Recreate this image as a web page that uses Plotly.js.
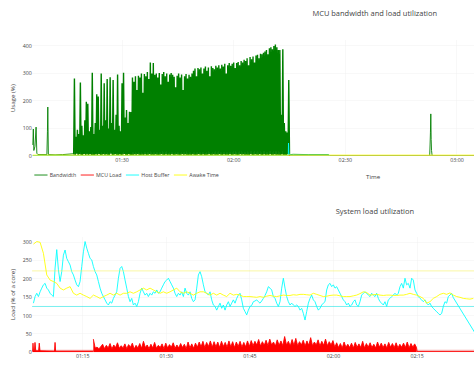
<!DOCTYPE html>
<html><head><meta charset="utf-8">
<script src="https://cdn.plot.ly/plotly-3.0.1.min.js"></script>
<style>
html,body{margin:0;padding:0;overflow:hidden;background:#fff;width:474px;height:370px}
#wrap{transform:scale(0.44);transform-origin:0 0;width:1700px;height:841px}
</style>
</head><body><div id="wrap"><div id="chart"></div></div>
<script>
const DAY = '2020-01-01 ';

// ---------- Top chart: MCU bandwidth and load utilization ----------
const bwEarlyTimes = ['01:06:00','01:06:09','01:06:18','01:06:36','01:06:54','01:07:06','01:07:24','01:09:48','01:09:57','01:10:03','01:10:12','01:12:00','01:14:00','01:16:00','01:16:54'];
const bwEarly = [40,98,20,35,105,10,5,5,90,178,5,4,5,7,8];
const bwDenseStart = '01:17:00';
const bwDenseStepMs = 12000;
const bwPeaks = [282,70,95,80,267,110,75,130,197,190,90,105,303,80,120,224,216,95,300,110,264,130,280,100,286,120,276,95,150,296,110,90,264,303,140,167,120,161,
 160,285,270,290,240,292,285,300,230,298,290,305,280,
 340,300,338,295,
 300,285,302,260,298,305,290,300,270,296,302,
 295,288,250,292,300,285,296,240,290,298,282,295,288,
 300,310,318,290,320,315,322,300,318,325,310,322,290,326,320,315,328,322,
 330,318,332,325,335,300,330,338,328,335,340,320,338,342,330,345,340,
 350,345,355,330,360,352,362,340,365,368,355,372,370,375,
 380,385,370,392,395,388,400,405,395,385,
 385,150,388,120,90,85,276];
const bwTroughs = [5,3,8,2,6,4,1,7,3,5, 2,6,4,3,1,5,2,7,3,4, 6,2,5,1,3,8,2,4,6,3, 1,5,2,4,7,3,2,6,1,4,
 3,5,2,6,1,3,4,2,5,1, 3,6,2,4,1,5,3,2,4,6, 1,3,5,2,4,1,6,3,2,5, 4,1,3,6,2,5,3,1,4,2,
 5,3,1,4,6,2,3,5,1,2, 4,6,3,1,5,2,4,3,6,1, 2,5,3,4,1,6,2,3,5,4, 1,3,6,2,5,1,4,3,2,6,
 3,1,5,4,2,6,1,3,5,2, 4,2,6,3,1,5,2,4,3,1, 5,3,2,4,6,1];
const bwLateTimes = ['02:15:10','02:16:00','02:20:00','02:25:30','02:25:40','02:52:40','02:52:46','02:52:52','02:52:58','02:53:04','02:53:10','02:53:20','03:06:00'];
const bwLate = [5,6,5,5,0,0,40,84,153,60,20,0,0];

const mcuTopTimes = ['01:06:00','03:06:00'];
const mcuTop = [1,1];
const hostTopTimes = ['01:06:00','02:14:40','02:14:44','02:14:50','02:15:10','02:25:40','02:25:50','03:06:00'];
const hostTop = [1,1,47,10,3,3,0,0];
const awakeTopTimes = ['01:06:00','03:06:00'];
const awakeTop = [3,3];

// ---------- Bottom chart: System load utilization ----------
const hostStart = '01:06:09';
const hostStepMs = 17940;
const hostLoad = [134,152,161,152,165,175,184,188,175,170,161,156,152,230,280,225,193,220,265,279,
 256,247,238,220,211,197,184,179,193,234,274,302,284,270,256,252,234,220,211,193,
 175,161,152,143,134,129,138,134,147,156,165,202,229,234,220,197,175,152,138,147,
 129,134,125,138,161,175,165,156,161,152,161,156,165,161,170,161,165,175,184,193,
 197,202,193,184,175,161,152,161,156,165,152,175,161,156,165,147,138,143,175,211,
 220,206,184,165,161,156,165,143,129,125,115,125,134,120,129,115,129,138,125,134,
 143,134,147,156,161,143,120,111,102,115,125,
 128,138,140,143,138,134,140,147,155,165,179,175,170,152,147,134,125,138,175,202,
 175,152,138,129,134,129,125,129,125,115,120,106,88,111,134,147,156,143,138,125,
 115,120,129,134,138,170,184,188,179,184,175,179,170,161,152,143,138,129,134,125,
 129,138,143,129,125,138,156,161,165,161,156,152,161,156,152,161,147,138,134,129,
 138,125,143,147,152,156,161,156,161,179,188,175,202,184,188,175,202,197,170,161,
 152,147,143,138,143,134,129,134,125,120,115,111,106,102,106,125,138,134,152,156,
 161,149];
const hostGapTimes = ['02:21:30','02:25:30'];
const hostGap = [149,50];

const awakeStart = '01:06:09';
const awakeStepMs = 35880;
const awakeLoad = [295,302,300,270,211,197,193,188,175,170,175,179,161,156,161,156,152,147,156,152,
 147,152,156,161,156,161,156,161,161,165,161,165,170,175,170,175,170,165,161,165,
 161,165,170,175,165,161,165,161,156,161,165,165,161,156,161,156,161,156,152,161,
 156,158,156,152,152,152,
 151,150,152,150,153,155,153,152,154,156,155,155,157,156,158,158,157,156,161,158,
 155,152,153,155,156,156,154,152,152,152,154,156,160,165,163,156,157,158,156,155,
 156,156,155,155,156,156,158,161,158,156,152,147,134,138,147,152,158,161,158,162,
 156,152,150,147,146,145,147];

const mcuEarlyTimes = ['01:06:00','01:06:04','01:06:10','01:06:20','01:06:26','01:06:34','01:07:05','01:07:12','01:07:20','01:09:56','01:10:02','01:10:08','01:16:50'];
const mcuEarly = [3,25,5,4,27,4,4,25,4,3,27,3,3];
const mcuStart = '01:16:54';
const mcuStepMs = 20000;
const mcuLoad = [36,12,14,10,15,
 22,10,19,12,24,9,20,13,26,11, 18,12,23,10,21,14,25,9,19,12, 24,11,30,13,20,10,22,12,27,11,
 19,13,23,10,25,12,21,14,26,11, 20,12,24,13,22,10,28,12,23,11, 25,
 14,28,15,30,13,27,16,31,14,29, 15,28,13,30,16,27,14,31,15,29, 13,28,16,30,14,27,15,31,16,
 32,18,30,20,35,17,29,19,33,18, 36,20,28,17,34,19,31,18,43,20, 30,17,35,19,38,18,29,20,33,17,
 31,19,40,18,28,20,34,17,30,19, 36,18,29,20,32,
 14,26,13,24,12,28,14,22,13,25, 12,27,14,23,13,30,12,24,14,26, 13,22,12,28,14,25,13,23,12,27,
 14,24,13,26,12,22,14,25,13,28, 12,24,14,23,13];
const mcuLateTimes = ['02:14:54','02:15:00','03:10:00'];
const mcuLate = [13,2,2];

// reference levels drawn across the whole lower chart
const refTimes = ['01:05:00','03:10:00'];
const awakeRef = [222,222];
const hostRef = [125,125];
const mcuRef = [4,4];

// axis ranges and tick labels
const topRange = ['01:05:50','04:09:06'];
const bottomRange = ['01:05:55','03:08:18'];
const topTicks = ['01:30','02:00','02:30','03:00'];
const bottomTicks = ['01:15','01:30','01:45','02:00','02:15'];
const topYTicks = [0,100,200,300,400];
const bottomYTicks = [0,50,100,150,200,250,300];

// ---------------------------------------------------------
const T = s => DAY + s;
const Ts = a => a.map(T);
function interleave(tr, pk){
  const out = [];
  for (let i = 0; i < pk.length; i++){ out.push(tr[i]); out.push(pk[i]); }
  out.push(tr[tr.length-1]);
  return out;
}
const GREEN = 'green', RED = 'red', CYAN = 'cyan', YEL = 'yellow';
const LW = 2;
const ln = (c, w) => ({color:c, width:w === undefined ? LW : w, simplify:false});

const traces = [
  {type:'scatter', mode:'lines', name:'Bandwidth', legendgroup:'bw', x:Ts(bwEarlyTimes), y:bwEarly, line:ln(GREEN), xaxis:'x', yaxis:'y'},
  {type:'scatter', mode:'lines', name:'Bandwidth', legendgroup:'bw', showlegend:false, x0:T(bwDenseStart), dx:bwDenseStepMs, y:interleave(bwTroughs,bwPeaks), line:ln(GREEN,3.2), xaxis:'x', yaxis:'y'},
  {type:'scatter', mode:'lines', name:'Bandwidth', legendgroup:'bw', showlegend:false, x:Ts(bwLateTimes), y:bwLate, line:ln(GREEN), xaxis:'x', yaxis:'y'},
  {type:'scatter', mode:'lines', name:'MCU Load', legendgroup:'mcu', x:Ts(mcuTopTimes), y:mcuTop, line:ln(RED), xaxis:'x', yaxis:'y'},
  {type:'scatter', mode:'lines', name:'Host Buffer', legendgroup:'host', x:Ts(hostTopTimes), y:hostTop, line:ln(CYAN), xaxis:'x', yaxis:'y'},
  {type:'scatter', mode:'lines', name:'Awake Time', legendgroup:'awake', x:Ts(awakeTopTimes), y:awakeTop, line:ln(YEL), xaxis:'x', yaxis:'y'},

  {type:'scatter', mode:'lines', name:'MCU Load', legendgroup:'mcu', showlegend:false, x:Ts(refTimes), y:mcuRef, line:ln('rgba(230,90,90,0.45)',5), xaxis:'x2', yaxis:'y2'},
  {type:'scatter', mode:'lines', name:'MCU Load', legendgroup:'mcu', showlegend:false, x:Ts(mcuEarlyTimes), y:mcuEarly, fill:'tozeroy', fillcolor:RED, line:ln(RED), xaxis:'x2', yaxis:'y2'},
  {type:'scatter', mode:'lines', name:'MCU Load', legendgroup:'mcu', showlegend:false, x0:T(mcuStart), dx:mcuStepMs, y:mcuLoad, fill:'tozeroy', fillcolor:RED, line:ln(RED), xaxis:'x2', yaxis:'y2'},
  {type:'scatter', mode:'lines', name:'MCU Load', legendgroup:'mcu', showlegend:false, x:Ts(mcuLateTimes), y:mcuLate, line:ln(RED), xaxis:'x2', yaxis:'y2'},
  {type:'scatter', mode:'lines', name:'Host Buffer', legendgroup:'host', showlegend:false, x:Ts(refTimes), y:hostRef, line:ln('rgba(0,225,225,0.6)'), xaxis:'x2', yaxis:'y2'},
  {type:'scatter', mode:'lines', name:'Host Buffer', legendgroup:'host', showlegend:false, x0:T(hostStart), dx:hostStepMs, y:hostLoad, line:ln(CYAN), xaxis:'x2', yaxis:'y2'},
  {type:'scatter', mode:'lines', name:'Host Buffer', legendgroup:'host', showlegend:false, x:Ts(hostGapTimes), y:hostGap, line:ln(CYAN), xaxis:'x2', yaxis:'y2'},
  {type:'scatter', mode:'lines', name:'Awake Time', legendgroup:'awake', showlegend:false, x:Ts(refTimes), y:awakeRef, line:ln('rgba(245,240,80,0.6)'), xaxis:'x2', yaxis:'y2'},
  {type:'scatter', mode:'lines', name:'Awake Time', legendgroup:'awake', showlegend:false, x0:T(awakeStart), dx:awakeStepMs, y:awakeLoad, line:ln(YEL), xaxis:'x2', yaxis:'y2'}
];

const axCommon = {gridcolor:'#eee', zeroline:false, showline:false, automargin:false, tickfont:{size:12,color:'#444'}};
const layout = {
  width:1700, height:841,
  margin:{l:73, r:77, t:0, b:0},
  paper_bgcolor:'#fff', plot_bgcolor:'#fff',
  font:{family:'"Open Sans", verdana, arial, sans-serif', size:12, color:'#444'},
  showlegend:true,
  legend:{orientation:'h', x:0, xanchor:'left', y:0.527, yanchor:'middle', font:{size:12}, bgcolor:'rgba(0,0,0,0)'},
  xaxis:Object.assign({}, axCommon, {type:'date', anchor:'y', domain:[0,1], range:Ts(topRange), tickmode:'array', tickvals:Ts(topTicks), ticktext:topTicks}),
  yaxis:Object.assign({}, axCommon, {domain:[0.5785,0.8906], range:[0,420], tickmode:'array', tickvals:topYTicks, title:{text:'Usage (%)', font:{size:14}}}),
  xaxis2:Object.assign({}, axCommon, {type:'date', anchor:'y2', domain:[0,1], range:Ts(bottomRange), tickmode:'array', tickvals:Ts(bottomTicks), ticktext:bottomTicks}),
  yaxis2:Object.assign({}, axCommon, {domain:[0.0479,0.3601], range:[0,315], tickmode:'array', tickvals:bottomYTicks, title:{text:'Load (% of a core)', font:{size:14}}}),
  annotations:[
    {text:'MCU bandwidth and load utilization', xref:'paper', yref:'paper', x:0.5026, y:0.965, xanchor:'center', yanchor:'middle', showarrow:false, font:{size:17,color:'#444'}},
    {text:'System load utilization', xref:'paper', yref:'paper', x:0.5026, y:0.4298, xanchor:'center', yanchor:'middle', showarrow:false, font:{size:17,color:'#444'}},
    {text:'Time', xref:'paper', yref:'paper', x:0.5, y:0.522, xanchor:'center', yanchor:'middle', showarrow:false, font:{size:14,color:'#444'}}
  ]
};
Plotly.newPlot('chart', traces, layout, {displayModeBar:false, staticPlot:true});
</script></body></html>
